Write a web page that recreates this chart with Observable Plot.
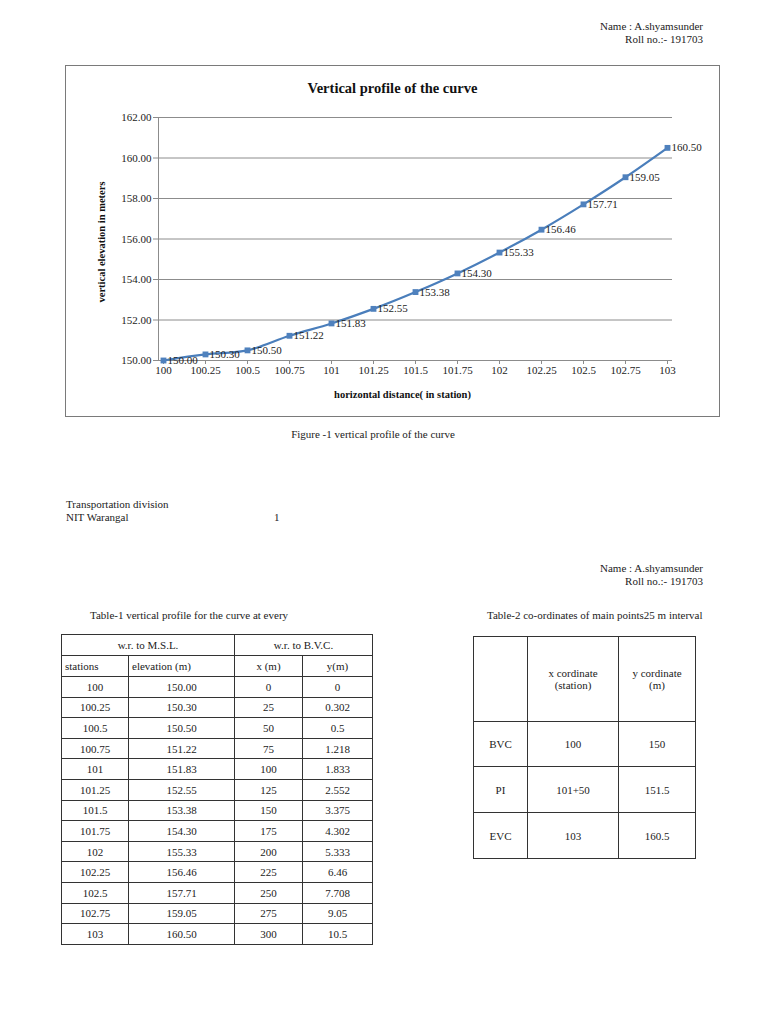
<!DOCTYPE html>
<html>
<head>
<meta charset="utf-8">
<script src="https://cdn.jsdelivr.net/npm/d3@7"></script>
<script src="https://cdn.jsdelivr.net/npm/@observablehq/plot@0.6"></script>
<style>
  html, body { margin: 0; padding: 0; background: #fff; }
  body { width: 768px; height: 1024px; position: relative; overflow: hidden;
         font-family: "Liberation Serif", "Times New Roman", serif; font-size: 11px; color: #222; }
  .abs { position: absolute; white-space: nowrap; line-height: 13px; }
  .right { text-align: right; }
  #chartbox { position: absolute; left: 65px; top: 65px; width: 655px; height: 352px;
              box-sizing: border-box; border: 1.5px solid #7a7a7a; }
  #chart { position: absolute; left: 66px; top: 66px; }
  table { position: absolute; border-collapse: collapse; font-size: 11px; color: #222; table-layout: fixed; }
  td { border: 1px solid #333; padding: 0; text-align: center; vertical-align: middle; }
  #t1 td.l { text-align: left; padding-left: 3px; }
</style>
</head>
<body>
<div class="abs right" style="right:65px; top:20px;">Name : A.shyamsunder<br>Roll no.:- 191703</div>

<div id="chartbox"></div>
<div id="chart"></div>

<div class="abs" style="left:0; width:746px; text-align:center; top:428px;">Figure -1 vertical profile of the curve</div>

<div class="abs" style="left:66px; top:498px;">Transportation division<br>NIT Warangal</div>
<div class="abs" style="left:274px; top:511px;">1</div>

<div class="abs right" style="right:65px; top:562px;">Name : A.shyamsunder<br>Roll no.:- 191703</div>

<div class="abs" style="left:90px; top:609px;">Table-1 vertical profile for the curve at every</div>
<div class="abs" style="left:487px; top:609px;">Table-2 co-ordinates of main points25 m interval</div>

<table id="t1" style="left:61px; top:634px; width:311px;"></table>
<table id="t2" style="left:473px; top:636px; width:222px;"></table>

<script>
// ---- data ----
const stations = ["100","100.25","100.5","100.75","101","101.25","101.5","101.75","102","102.25","102.5","102.75","103"];
const elevation = [150.00,150.30,150.50,151.22,151.83,152.55,153.38,154.30,155.33,156.46,157.71,159.05,160.50];
const xFromBVC = ["0","25","50","75","100","125","150","175","200","225","250","275","300"];
const yFromBVC = ["0","0.302","0.5","1.218","1.833","2.552","3.375","4.302","5.333","6.46","7.708","9.05","10.5"];
const yTicks = [150,152,154,156,158,160,162];
const mainPoints = ["BVC","PI","EVC"];
const mainX = ["100","101+50","103"];
const mainY = ["150","151.5","160.5"];

const data = stations.map((s, i) => ({station: s, elev: elevation[i]}));

const font = "Liberation Serif, Times New Roman, serif";
const blue = "#4A7EBB";

const chart = Plot.plot({
  width: 653,
  height: 350,
  marginLeft: 92,
  marginRight: 47,
  marginTop: 51,
  marginBottom: 56,
  style: {fontFamily: font, fontSize: "11px", color: "#222", background: "transparent"},
  x: {type: "point", domain: stations, padding: 0, label: null},
  y: {domain: [150, 162], label: null},
  marks: [
    Plot.ruleY(yTicks, {stroke: "#8c8c8c", strokeWidth: 1, strokeOpacity: 1}),
    Plot.frame({anchor: "left", stroke: "#8c8c8c"}),
    Plot.axisY({ticks: yTicks, tickFormat: d => d.toFixed(2), tickSize: 5, tickPadding: 2, stroke: "#8c8c8c", fill: "#222", fontSize: 11, strokeOpacity: 1}),
    Plot.axisX({tickSize: 4, tickPadding: 2, stroke: "#8c8c8c", fill: "#222", fontSize: 11, strokeOpacity: 1}),
    Plot.line(data, {x: "station", y: "elev", stroke: blue, strokeWidth: 2.2, curve: "catmull-rom"}),
    Plot.dot(data, {x: "station", y: "elev", symbol: "square", r: 3.3, fill: "#4F81BD", stroke: "none"}),
    Plot.text(data, {x: "station", y: "elev", text: d => d.elev.toFixed(2), textAnchor: "start", dx: 4, fontSize: 11, fill: "#222"}),
    Plot.text(["Vertical profile of the curve"], {frameAnchor: "top", lineAnchor: "middle", textAnchor: "middle", dx: -23, dy: -29, fontSize: 14.5, fontWeight: "bold", fill: "#111"}),
    Plot.text(["vertical elevation in meters"], {frameAnchor: "left", lineAnchor: "middle", textAnchor: "middle", dx: -57, dy: 3, rotate: -90, fontSize: 10.5, fontWeight: "bold", fill: "#111"}),
    Plot.text(["horizontal distance( in station)"], {frameAnchor: "bottom", lineAnchor: "middle", textAnchor: "middle", dx: -13, dy: 34, fontSize: 10.5, fontWeight: "bold", fill: "#111"})
  ]
});
document.getElementById("chart").appendChild(chart);

// ---- table 1 ----
const t1 = document.getElementById("t1");
const cols1 = [67, 106, 68, 70];
t1.innerHTML =
  "<colgroup>" + cols1.map(w => `<col style="width:${w}px">`).join("") + "</colgroup>" +
  `<tr style="height:21px"><td colspan="2">w.r. to M.S.L.</td><td colspan="2">w.r. to B.V.C.</td></tr>` +
  `<tr style="height:21px"><td class="l">stations</td><td class="l">elevation (m)</td><td>x (m)</td><td>y(m)</td></tr>` +
  stations.map((s, i) =>
    `<tr style="height:20.6px"><td>${s}</td><td>${elevation[i].toFixed(2)}</td><td>${xFromBVC[i]}</td><td>${yFromBVC[i]}</td></tr>`
  ).join("");

// ---- table 2 ----
const t2 = document.getElementById("t2");
const cols2 = [54, 91, 77];
const rowsH2 = [45, 46, 46];
t2.innerHTML =
  "<colgroup>" + cols2.map(w => `<col style="width:${w}px">`).join("") + "</colgroup>" +
  `<tr style="height:85px"><td></td><td>x cordinate<br>(station)</td><td>y cordinate<br>(m)</td></tr>` +
  mainPoints.map((p, i) =>
    `<tr style="height:${rowsH2[i]}px"><td>${p}</td><td>${mainX[i]}</td><td>${mainY[i]}</td></tr>`
  ).join("");
t2.style.border = "1.5px solid #333";
</script>
</body>
</html>
